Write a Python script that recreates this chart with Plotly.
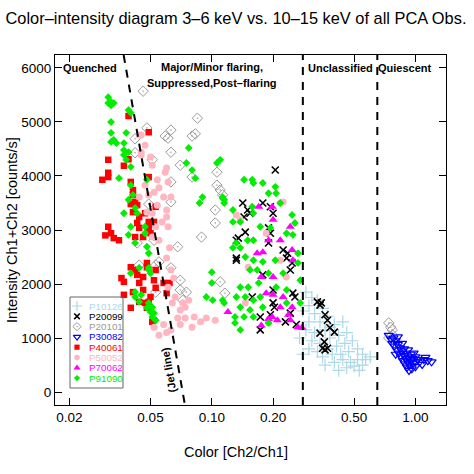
import math
import plotly.graph_objects as go

FONT = "Liberation Sans, Arial, Helvetica, sans-serif"

# ---------------- data (color = Ch2/Ch1, intensity = Ch1+Ch2 counts/s) ----------------
P10126_COLOR = [0.29, 0.31, 0.30, 0.33, 0.28, 0.32, 0.35, 0.30, 0.34, 0.37, 0.29, 0.32, 0.36, 0.40, 0.44,
                0.31, 0.34, 0.38, 0.42, 0.46, 0.30, 0.33, 0.37, 0.41, 0.45, 0.49, 0.35, 0.39, 0.43, 0.47,
                0.52, 0.55, 0.40, 0.44, 0.48, 0.52, 0.57, 0.46, 0.50, 0.55, 0.42, 0.60, 0.38, 0.27, 0.28,
                0.36, 0.53]
P10126_INTENSITY = [1850, 1750, 1600, 1700, 1500, 1450, 1550, 1300, 1300, 1400, 1150, 1100, 1150, 1250, 1300,
                    950, 900, 1000, 1050, 1100, 800, 750, 800, 850, 900, 950, 650, 700, 700, 750,
                    800, 700, 550, 600, 550, 600, 600, 450, 480, 500, 400, 650, 1200, 1000, 700,
                    500, 400]

P20099_COLOR = [0.205, 0.142, 0.150, 0.154, 0.144, 0.146, 0.135, 0.132, 0.178, 0.194, 0.200, 0.190, 0.194,
                0.190, 0.224, 0.236, 0.233, 0.248, 0.243, 0.178, 0.200, 0.250, 0.256, 0.200, 0.203, 0.194,
                0.243, 0.173, 0.173, 0.158, 0.132, 0.132, 0.230, 0.260,
                0.33, 0.34, 0.345, 0.36, 0.37, 0.38, 0.40, 0.34, 0.357, 0.35, 0.36, 0.37]
P20099_INTENSITY = [4110, 3500, 3370, 3310, 3240, 2960, 2850, 2480, 3500, 3430, 3310, 3040, 2940,
                    2760, 2630, 2570, 2480, 2390, 2260, 2170, 1890, 1830, 1760, 1650, 1570, 1430,
                    1460, 1390, 1150, 1760, 2810, 2440, 1300, 1250,
                    1670, 1610, 1650, 1430, 1330, 1190, 1110, 1090, 930, 810, 780, 810]

P20101_COLOR = [0.046, 0.085, 0.063, 0.059, 0.061, 0.080, 0.083, 0.063, 0.070, 0.106, 0.080, 0.063, 0.106,
                0.110, 0.113, 0.063, 0.104, 0.104, 0.089, 0.068, 0.055, 0.063, 0.070, 0.110, 0.070, 0.072,
                0.116, 0.075, 0.048, 0.042, 0.042, 0.051, 0.049, 0.049, 0.052, 0.043, 0.044, 0.053, 0.053,
                0.74, 0.756, 0.77, 0.74, 0.77]
P20101_INTENSITY = [5570, 5070, 4850, 4740, 4700, 4740, 4780, 4440, 4200, 4070, 3980, 3890, 3830,
                    3740, 3650, 3520, 3370, 3130, 2870, 2690, 2410, 2300, 2070, 2040, 1890, 1700,
                    1830, 1850, 4890, 4690, 4430, 4300, 3480, 3090, 2810, 2760, 2350, 2350, 1850,
                    1280, 1200, 1150, 1000, 1060]

P30082_COLOR = [0.74, 0.76, 0.78, 0.77, 0.80, 0.79, 0.82, 0.81, 0.84, 0.86, 0.83, 0.86, 0.88, 0.85, 0.88,
                0.90, 0.92, 0.87, 0.90, 0.93, 0.95, 0.98, 0.89, 0.92, 0.95, 0.97, 1.00, 1.03, 0.91, 0.94,
                0.97, 1.00, 1.05, 1.10, 1.15, 1.20, 0.93, 0.96, 1.00, 1.08, 1.12, 0.82, 0.80]
P30082_INTENSITY = [1050, 980, 1000, 900, 950, 850, 880, 780, 820, 900, 720, 760, 800, 650, 680,
                    720, 780, 580, 620, 650, 700, 720, 520, 560, 590, 620, 650, 600, 460, 500,
                    530, 560, 560, 600, 580, 560, 400, 430, 470, 510, 640, 1020, 700]

P40061_COLOR = [0.039, 0.049, 0.031, 0.039, 0.037, 0.031, 0.031, 0.029, 0.049, 0.040, 0.041, 0.041, 0.042,
                0.040, 0.043, 0.053, 0.041, 0.044, 0.043, 0.031, 0.032, 0.033, 0.035, 0.044, 0.049, 0.050,
                0.042, 0.030, 0.040, 0.042, 0.048, 0.036, 0.037, 0.043, 0.044, 0.041, 0.046, 0.053, 0.050,
                0.037, 0.044, 0.040, 0.049, 0.048, 0.052, 0.047, 0.049, 0.052, 0.046, 0.048, 0.053, 0.046,
                0.052, 0.058, 0.060, 0.062, 0.047, 0.051]
P40061_INTENSITY = [5110, 4810, 4300, 4310, 4190, 4060, 3980, 3930, 3980, 3890, 3740, 3650, 3520,
                    3480, 3460, 3430, 3330, 3240, 3130, 3060, 2940, 2850, 2810, 3040, 3040, 2940,
                    2870, 2900, 2310, 2260, 2390, 2110, 2040, 2170, 2020, 1850, 1890, 1930, 1760,
                    1800, 1670, 1560, 1670, 1560, 1330, 3310, 3150, 3150, 2870, 2310, 2260, 2130,
                    2070, 2020, 1830, 2020, 1650, 1300]

P50052_COLOR = [0.045, 0.047, 0.045, 0.060, 0.059, 0.054, 0.061, 0.055, 0.063, 0.052, 0.058, 0.054, 0.060,
                0.051, 0.060, 0.057, 0.053, 0.061, 0.051, 0.055, 0.062, 0.060, 0.063, 0.065, 0.061, 0.066,
                0.064, 0.070, 0.074, 0.074, 0.082, 0.094, 0.104, 0.068, 0.077, 0.072,
                0.224, 0.217, 0.132, 0.138, 0.151, 0.190, 0.146, 0.217, 0.232, 0.185,
                0.044, 0.045, 0.050, 0.051, 0.047, 0.044, 0.049, 0.048,
                0.052, 0.058, 0.063, 0.070, 0.080, 0.088, 0.055, 0.060]
P50052_INTENSITY = [4760, 4570, 4390, 4150, 4070, 3930, 3890, 3780, 3610, 3700, 3610, 3460, 3370,
                    3310, 3240, 3150, 3060, 3060, 2870, 2810, 2670, 2480, 2260, 2110, 1940, 1760,
                    1650, 1520, 1570, 1370, 1390, 1370, 1330, 1370, 1700, 1650,
                    3520, 3500, 3280, 3190, 2310, 1280, 1650, 2440, 2130, 2940,
                    4760, 4440, 4350, 4200, 3830, 3610, 3650, 3330,
                    1200, 1250, 1150, 1250, 1200, 1300, 1050, 1100]

P70062_COLOR = [0.170, 0.200, 0.198, 0.243, 0.217, 0.248, 0.167, 0.178, 0.250, 0.175, 0.200, 0.185, 0.200,
                0.224, 0.217, 0.248, 0.210, 0.243, 0.265, 0.277, 0.238, 0.198, 0.190, 0.120, 0.175, 0.190]
P70062_INTENSITY = [3430, 3190, 3430, 3060, 2810, 2630, 2570, 2590, 2440, 2130, 2130, 1830, 1800,
                    1760, 1570, 1570, 1330, 1330, 1200, 1190, 1430, 1390, 2810, 1480, 1230, 1350]

P91090_COLOR = [0.031, 0.032, 0.031, 0.032, 0.033, 0.039, 0.040, 0.032, 0.032, 0.038, 0.033, 0.032, 0.034,
                0.037, 0.037, 0.037, 0.039, 0.038, 0.040, 0.035, 0.040, 0.041, 0.039, 0.042, 0.043, 0.037,
                0.040, 0.039, 0.047, 0.047, 0.042, 0.049, 0.040, 0.044, 0.049, 0.050, 0.042, 0.042, 0.045,
                0.044, 0.049, 0.048, 0.051, 0.050, 0.053, 0.052,
                0.077, 0.075, 0.080, 0.083, 0.110, 0.106, 0.090, 0.087, 0.113, 0.115, 0.100, 0.100, 0.094,
                0.101, 0.113, 0.048, 0.048, 0.049, 0.051,
                0.144, 0.158, 0.160, 0.178, 0.190, 0.205, 0.207, 0.217, 0.127, 0.138, 0.127, 0.160, 0.173,
                0.194, 0.233, 0.250, 0.132, 0.150, 0.138, 0.160, 0.127, 0.146, 0.160, 0.178, 0.205, 0.265,
                0.154, 0.167, 0.190, 0.224, 0.272, 0.138, 0.151, 0.170, 0.207, 0.233, 0.272, 0.132, 0.146,
                0.160, 0.173, 0.138, 0.154, 0.178, 0.233, 0.130, 0.144, 0.160, 0.190, 0.130, 0.138, 0.115,
                0.113, 0.115, 0.158, 0.248, 0.256, 0.265]
P91090_INTENSITY = [5460, 5370, 5350, 5310, 5350, 5220, 5170, 5000, 4800, 4800, 4670, 4630, 4610,
                    4610, 4480, 4390, 4440, 4300, 4170, 3960, 3830, 3650, 3560, 3410, 3310, 3310,
                    3060, 2910, 2940, 3060, 2760, 2570, 2200, 2300, 2300, 2200, 1850, 1760, 1800,
                    1670, 1650, 1560, 1570, 1480, 1330, 1460,
                    4520, 4240, 4110, 3960, 4300, 4240, 3610, 3500, 3610, 3560, 2220, 2020, 1760,
                    1700, 1700, 3930, 2690, 2260, 1390,
                    3930, 3930, 3870, 3870, 3680, 3800, 3680, 3500, 3370, 3150, 3150, 3310, 3060,
                    3040, 2940, 2910, 2760, 2810, 2670, 2810, 2670, 2500, 2440, 2410, 2440, 2390,
                    2260, 2260, 2200, 2200, 2070, 1940, 1940, 2020, 1940, 1890, 1650, 1760, 1760,
                    1700, 1760, 1570, 1520, 1570, 1650, 1390, 1390, 1390, 1280, 1280, 1150, 1650,
                    3590, 3500, 3430, 3280, 3130, 2570]

SERIES_NAMES = ["P10126", "P20099", "P20101", "P30082", "P40061", "P50052", "P70062", "P91090"]
SERIES_COLOR = [P10126_COLOR, P20099_COLOR, P20101_COLOR, P30082_COLOR,
                P40061_COLOR, P50052_COLOR, P70062_COLOR, P91090_COLOR]
SERIES_INTENSITY = [P10126_INTENSITY, P20099_INTENSITY, P20101_INTENSITY, P30082_INTENSITY,
                    P40061_INTENSITY, P50052_INTENSITY, P70062_INTENSITY, P91090_INTENSITY]

X_TICKS = [0.02, 0.05, 0.10, 0.20, 0.50, 1.00]
X_TICK_LABELS = ["0.02", "0.05", "0.10", "0.20", "0.50", "1.00"]
Y_TICKS = [0, 1000, 2000, 3000, 4000, 5000, 6000]
X_LIMITS = [0.02, 1.2]
Y_LIMITS = [0, 6000]

BOUNDARY_COLORS = [0.28, 0.65]          # vertical dashed class boundaries
JET_LINE_COLOR = [0.0369, 0.0738]       # jet line end points
JET_LINE_INTENSITY = [6240, -240]

# ---------------- styles ----------------
STYLES = [
    dict(symbol="cross-thin", color="#add8e6", size=9, lw=1.2),
    dict(symbol="x-thin", color="#000000", size=7, lw=1.6),
    dict(symbol="diamond-open-dot", color="#9a9a9a", size=8, lw=1),
    dict(symbol="triangle-down-open", color="#0000ff", size=8, lw=1.2),
    dict(symbol="square", color="#ff0000", size=6.5, lw=0),
    dict(symbol="circle", color="#ffb6c1", size=7, lw=0),
    dict(symbol="triangle-up", color="#ff00ff", size=8, lw=0),
    dict(symbol="diamond", color="#00ee00", size=6, lw=0),
]

W = H = 474
L, R, T, B = 55, 28, 55, 69
PW, PH = W - L - R, H - T - B


def px_x(px):
    return (px - L) / PW


def px_y(py):
    return (H - B - py) / PH


fig = go.Figure()

for name, xs, ys, st in zip(SERIES_NAMES, SERIES_COLOR, SERIES_INTENSITY, STYLES):
    fig.add_trace(go.Scatter(
        x=xs, y=ys, mode="markers", name=name, showlegend=False,
        marker=dict(symbol=st["symbol"], color=st["color"], size=st["size"],
                    line=dict(color=st["color"], width=st["lw"])),
    ))

# boundaries
for c in BOUNDARY_COLORS:
    fig.add_trace(go.Scatter(x=[c, c], y=[Y_LIMITS[0] - 240, Y_LIMITS[1] + 240], mode="lines",
                             line=dict(color="black", width=2, dash="8px,7px"), showlegend=False,
                             hoverinfo="skip"))
fig.add_trace(go.Scatter(x=JET_LINE_COLOR, y=JET_LINE_INTENSITY, mode="lines",
                         line=dict(color="black", width=2, dash="8px,7px"), showlegend=False,
                         hoverinfo="skip"))

# manual legend on overlay axes (paper-like 0..1)
leg_x_box = [px_x(70), px_x(123)]
leg_y_box = [px_y(388), px_y(297)]
for i, (name, st) in enumerate(zip(SERIES_NAMES, STYLES)):
    yy = px_y(306 + 10.3 * i)
    fig.add_trace(go.Scatter(
        x=[px_x(77)], y=[yy], xaxis="x2", yaxis="y2", mode="markers", showlegend=False,
        hoverinfo="skip",
        marker=dict(symbol=st["symbol"], color=st["color"], size=st["size"] * 0.8,
                    line=dict(color=st["color"], width=st["lw"])),
    ))
    fig.add_annotation(x=px_x(87), y=yy, xref="paper", yref="paper", text=name,
                       showarrow=False, xanchor="left", yanchor="middle",
                       font=dict(family=FONT, size=9.8, color=st["color"]))

fig.add_shape(type="rect", xref="paper", yref="paper", x0=leg_x_box[0], x1=leg_x_box[1],
              y0=leg_y_box[0], y1=leg_y_box[1], line=dict(color="#666666", width=1),
              fillcolor="rgba(255,255,255,0)", layer="above")

# region labels
def lab(text, color, inten, **kw):
    fig.add_annotation(x=math.log10(color), y=inten, xref="x", yref="y", text=text,
                       showarrow=False, font=dict(family=FONT, size=11, color="black"), **kw)

lab("<b>Quenched</b>", 0.0251, 6000)
lab("<b>Major/Minor flaring,</b>", 0.100, 6020)
lab("<b>Suppressed,Post\u2013flaring</b>", 0.100, 5720)
lab("<b>Unclassified</b>", 0.428, 6000)
lab("<b>Quiescent</b>", 0.894, 6000)
lab("<b>(Jet line)</b>", 0.0614, 407, textangle=-100)

# axis titles
fig.add_annotation(x=px_x(236), y=px_y(452), xref="paper", yref="paper", text="Color [Ch2/Ch1]",
                   showarrow=False, font=dict(family=FONT, size=14.5, color="black"),
                   xanchor="center", yanchor="middle")
fig.add_annotation(x=px_x(12), y=px_y(230), xref="paper", yref="paper",
                   text="Intensity Ch1+Ch2 [counts/s]", textangle=-90,
                   showarrow=False, font=dict(family=FONT, size=14.5, color="black"),
                   xanchor="center", yanchor="middle")

xr = [math.log10(X_LIMITS[0]), math.log10(X_LIMITS[1])]
xpad = 0.04 * (xr[1] - xr[0])
ypad = 0.04 * (Y_LIMITS[1] - Y_LIMITS[0])

fig.update_layout(
    width=W, height=H,
    margin=dict(l=L, r=R, t=T, b=B),
    paper_bgcolor="white", plot_bgcolor="white",
    font=dict(family=FONT, size=13, color="black"),
    title=dict(text="Color\u2013intensity diagram 3\u20136 keV vs. 10\u201315 keV of all PCA Obs.",
               x=236 / W, xanchor="center", xref="container",
               y=1 - 18 / H, yanchor="middle", yref="container",
               font=dict(family=FONT, size=16.4, color="black")),
    xaxis=dict(type="log", range=[xr[0] - xpad, xr[1] + xpad], tickvals=X_TICKS,
               ticktext=X_TICK_LABELS, showgrid=False, zeroline=False, showline=True,
               linecolor="black", linewidth=1, mirror="ticks", ticks="inside", ticklen=7,
               tickcolor="black", tickfont=dict(family=FONT, size=13.5, color="black")),
    yaxis=dict(range=[Y_LIMITS[0] - ypad, Y_LIMITS[1] + ypad], tickvals=Y_TICKS,
               showgrid=False, zeroline=False, showline=True, linecolor="black", linewidth=1,
               mirror="ticks", ticks="inside", ticklen=7, tickcolor="black",
               tickfont=dict(family=FONT, size=13.5, color="black")),
    xaxis2=dict(overlaying="x", range=[0, 1], visible=False, anchor="y2"),
    yaxis2=dict(overlaying="y", range=[0, 1], visible=False, anchor="x2"),
    showlegend=False,
)

fig.write_html("out.html")
